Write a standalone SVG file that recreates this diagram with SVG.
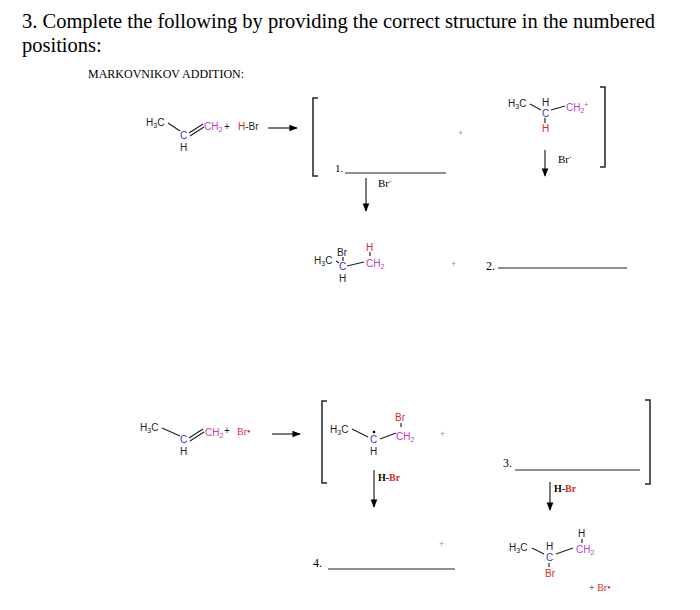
<svg xmlns="http://www.w3.org/2000/svg" width="700" height="610" viewBox="0 0 700 610">
<defs>
<style>
.t{font-family:"Liberation Serif",serif;fill:#000}
.s{font-family:"Liberation Sans",Arial,sans-serif;font-size:10px;fill:#222}
.b{fill:#3636b8}.m{fill:#c03cc0}.r{fill:#d42a2a}
.l{stroke:#222;stroke-width:1.2;fill:none}
.br{stroke:#222;stroke-width:1.5;fill:none}
.pl{font-family:"Liberation Sans",sans-serif;font-size:9px;fill:#999}
</style>
<marker id="ah" viewBox="0 0 10 10" refX="9" refY="5" markerWidth="7" markerHeight="7" orient="auto"><path d="M0,1 L10,5 L0,9 z" fill="#000"/></marker>
</defs>
<rect width="700" height="610" fill="#fff"/>
<text class="t" x="22" y="28" font-size="20.5">3. Complete the following by providing the correct structure in the numbered</text>
<text class="t" x="22" y="52" font-size="20.5">positions:</text>
<text class="t" x="88" y="78" font-size="12">MARKOVNIKOV ADDITION:</text>

<g id="propene1">
<text class="s" x="146" y="126">H<tspan font-size="7" dy="2">3</tspan><tspan dy="-2">C</tspan></text>
<path class="l" d="M168,123 L180,131 M189,133 L203,124 M190,136 L204,127"/>
<text class="s b" x="180" y="139">C</text><text class="s" x="180" y="151">H</text>
<text class="s m" x="204" y="130">CH<tspan font-size="7" dy="2">2</tspan></text>
<text class="s" x="224" y="130">+</text>
<text class="s" x="238" y="130"><tspan class="r">H</tspan>-Br</text>
</g>
<g id="bracket1">
<path class="br" d="M318,98 L313,98 L313,176 L318,176"/>
<text class="t" x="335" y="172" font-size="11">1.</text>
<path class="l" d="M345,173 L446,173"/>
<text class="pl" x="458" y="136">+</text>
<path class="br" d="M600,87 L605,87 L605,167 L600,167"/>
</g>
<g id="carbocation">
<text class="s" x="508" y="107">H<tspan font-size="7" dy="2">3</tspan><tspan dy="-2">C</tspan></text>
<path class="l" d="M530,104 L541,110 M551,110 L565,106 M545,118 L545,123"/>
<text class="s" x="542" y="106">H</text>
<text class="s b" x="542" y="117">C</text>
<text class="s r" x="542" y="132">H</text>
<text class="s m" x="566" y="111">CH<tspan font-size="7" dy="2">2</tspan><tspan font-size="7" dy="-6">+</tspan></text>
<text class="t" x="558" y="163" font-size="11">Br<tspan font-size="7" dy="-4">-</tspan></text>
</g>
<g id="product1">
<text class="s" x="314" y="264">H<tspan font-size="7" dy="2">3</tspan><tspan dy="-2">C</tspan></text>
<path class="l" d="M336,261 L339,263 M347,266 L364,262 M343,257 L343,261 M370,252 L370,256"/>
<text class="s" x="337" y="256">Br</text>
<text class="s b" x="339" y="270">C</text>
<text class="s" x="339" y="282">H</text>
<text class="s r" x="366" y="251">H</text>
<text class="s m" x="366" y="267">CH<tspan font-size="7" dy="2">2</tspan></text>
<text class="pl" x="451" y="267">+</text>
<text class="t" x="486" y="270" font-size="12">2.</text>
<path class="l" d="M498,268 L627,268"/>
</g>
<g id="propene2">
<text class="s" x="140" y="431">H<tspan font-size="7" dy="2">3</tspan><tspan dy="-2">C</tspan></text>
<path class="l" d="M162,428 L180,436 M189,438 L203,429 M190,441 L204,432"/>
<text class="s b" x="180" y="443">C</text><text class="s" x="180" y="455">H</text>
<text class="s m" x="205" y="436">CH<tspan font-size="7" dy="2">2</tspan></text>
<text class="s" x="224" y="434" fill="#c33">+</text>
<text class="t r" x="237" y="435" font-size="10">Br•</text>
</g>
<g id="radical">
<path class="br" d="M327,401 L322,401 L322,483 L327,483"/>
<text class="s" x="330" y="433">H<tspan font-size="7" dy="2">3</tspan><tspan dy="-2">C</tspan></text>
<circle cx="374" cy="432" r="1.3" fill="#000"/>
<path class="l" d="M352,429 L368,437 M380,439 L396,433 M401,423 L401,427"/>
<text class="s b" x="370" y="443">C</text>
<text class="s" x="370" y="455">H</text>
<text class="s r" x="395" y="421">Br</text>
<text class="s m" x="396" y="440">CH<tspan font-size="7" dy="2">2</tspan></text>
<text class="pl" x="440" y="437">+</text>
<text class="t" x="503" y="467" font-size="12">3.</text>
<path class="l" d="M515,470 L640,470"/>
<path class="br" d="M645,400 L650,400 L650,484 L645,484"/>
</g>
<g id="product2">
<text class="s" x="509" y="551">H<tspan font-size="7" dy="2">3</tspan><tspan dy="-2">C</tspan></text>
<path class="l" d="M532,548 L544,554 M556,554 L573,548 M549,563 L549,567"/>
<text class="s" x="546" y="550">H</text>
<text class="s b" x="546" y="561">C</text>
<text class="s r" x="545" y="577">Br</text>
<text class="s" x="578" y="537">H</text>
<path class="l" d="M582,539 L582,543"/>
<text class="s m" x="576" y="553">CH<tspan font-size="7" dy="2">2</tspan></text>
<text class="t r" x="589" y="591" font-size="10"><tspan fill="#222">+ </tspan>Br•</text>
<text class="pl" x="439" y="547">+</text>
<text class="t" x="313" y="567" font-size="12">4.</text>
<path class="l" d="M328,569 L455,569"/>
</g>
<g id="connectors">
<path class="l" d="M268,128 L297,128" marker-end="url(#ah)"/>
<path class="l" d="M366,178 L366,211" marker-end="url(#ah)"/>
<text class="t" x="378" y="187" font-size="11">Br<tspan font-size="7" dy="-4">-</tspan></text>
<path class="l" d="M545,150 L545,176" marker-end="url(#ah)"/>
<path class="l" d="M272,434 L300,434" marker-end="url(#ah)"/>
<path class="l" d="M374,470 L374,507" marker-end="url(#ah)"/>
<text class="t" x="378" y="481" font-size="10" font-weight="bold">H-<tspan class="r">Br</tspan></text>
<path class="l" d="M550,482 L550,510" marker-end="url(#ah)"/>
<text class="t" x="554" y="492" font-size="10" font-weight="bold">H-<tspan class="r">Br</tspan></text>
</g>
</svg>
